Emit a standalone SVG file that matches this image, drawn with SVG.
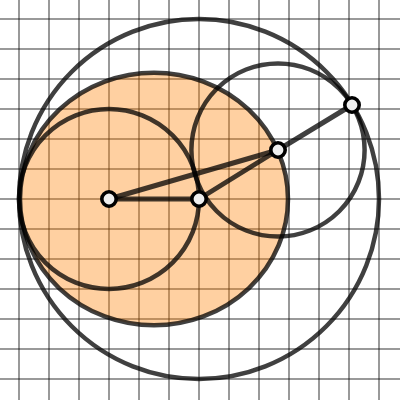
<svg xmlns="http://www.w3.org/2000/svg" width="400" height="400" viewBox="0 0 400 400">
  <style>
    .grid line { stroke: #000; stroke-opacity: 0.4; stroke-width: 2; }
    .shape { fill: none; stroke: #000; stroke-opacity: 0.75; stroke-width: 4.5; }
    .seg { stroke: #000; stroke-opacity: 0.75; stroke-width: 5; stroke-linecap: round; }
    .pt { fill: #eeeeee; stroke: #000; stroke-width: 3.6; }
  </style>
  <rect width="400" height="400" fill="#fff"/>
  <g id="grid" class="grid">
    <line x1="19" y1="0" x2="19" y2="400"/>
    <line x1="49" y1="0" x2="49" y2="400"/>
    <line x1="79" y1="0" x2="79" y2="400"/>
    <line x1="109" y1="0" x2="109" y2="400"/>
    <line x1="139" y1="0" x2="139" y2="400"/>
    <line x1="169" y1="0" x2="169" y2="400"/>
    <line x1="199" y1="0" x2="199" y2="400"/>
    <line x1="229" y1="0" x2="229" y2="400"/>
    <line x1="259" y1="0" x2="259" y2="400"/>
    <line x1="289" y1="0" x2="289" y2="400"/>
    <line x1="319" y1="0" x2="319" y2="400"/>
    <line x1="349" y1="0" x2="349" y2="400"/>
    <line x1="379" y1="0" x2="379" y2="400"/>
    <line x1="0" y1="19" x2="400" y2="19"/>
    <line x1="0" y1="49" x2="400" y2="49"/>
    <line x1="0" y1="79" x2="400" y2="79"/>
    <line x1="0" y1="109" x2="400" y2="109"/>
    <line x1="0" y1="139" x2="400" y2="139"/>
    <line x1="0" y1="169" x2="400" y2="169"/>
    <line x1="0" y1="199" x2="400" y2="199"/>
    <line x1="0" y1="229" x2="400" y2="229"/>
    <line x1="0" y1="259" x2="400" y2="259"/>
    <line x1="0" y1="289" x2="400" y2="289"/>
    <line x1="0" y1="319" x2="400" y2="319"/>
    <line x1="0" y1="349" x2="400" y2="349"/>
    <line x1="0" y1="379" x2="400" y2="379"/>
  </g>
  <g id="ellipse-orange">
    <ellipse cx="154" cy="199" rx="134" ry="126.3" fill="#ff8000" fill-opacity="0.37"/>
    <ellipse class="shape" cx="154" cy="199" rx="134" ry="126.3"/>
  </g>
  <g id="circle-big">
    <circle class="shape" cx="199" cy="199" r="180"/>
  </g>
  <g id="circle-left">
    <circle class="shape" cx="109" cy="199" r="90"/>
  </g>
  <g id="circle-right">
    <circle class="shape" cx="278" cy="150" r="86.6"/>
  </g>
  <g id="connectors">
    <line class="seg" x1="109" y1="199" x2="199" y2="199"/>
    <line class="seg" x1="109" y1="199" x2="278" y2="150"/>
    <line class="seg" x1="199" y1="199" x2="278" y2="150"/>
    <line class="seg" x1="278" y1="150" x2="352" y2="105"/>
  </g>
  <g id="point-A"><circle class="pt" cx="109" cy="199" r="7.2"/></g>
  <g id="point-B"><circle class="pt" cx="199" cy="199" r="7.2"/></g>
  <g id="point-C"><circle class="pt" cx="278" cy="150" r="7.2"/></g>
  <g id="point-D"><circle class="pt" cx="352" cy="105" r="7.2"/></g>
</svg>
